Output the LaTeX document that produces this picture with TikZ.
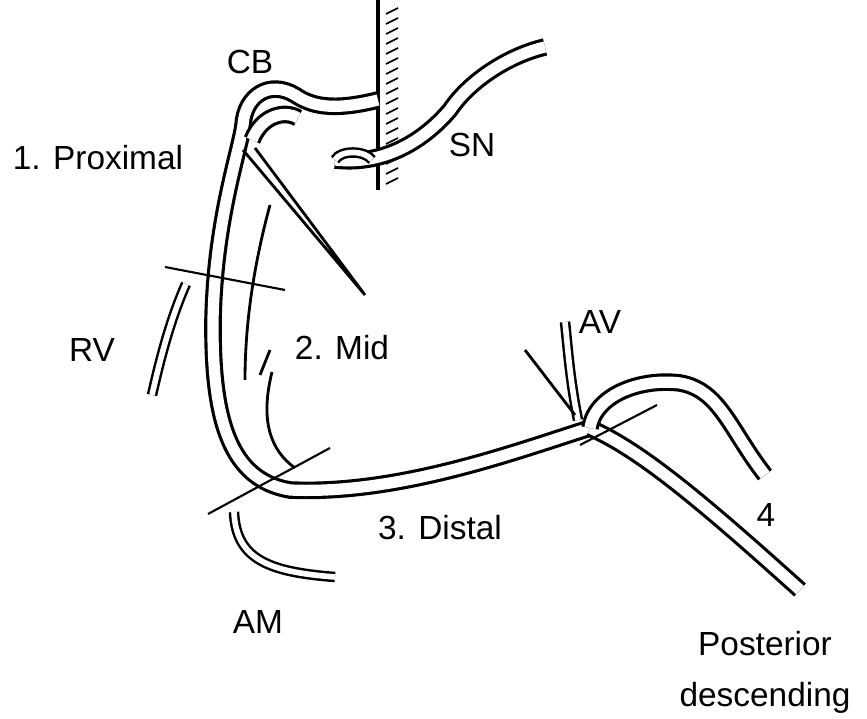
\documentclass[tikz,border=0pt]{standalone}
\usepackage{fontspec}
\setmainfont{Liberation Sans}
\begin{document}
\begin{tikzpicture}[x=0.01cm,y=-0.01cm,
 tube/.style={double=white,draw=black,line width=0.9pt,double distance=3.2pt,line cap=butt},
 thin/.style={double=white,draw=black,line width=0.7pt,double distance=1.6pt},
 lbl/.style={font=\fontsize{9.5}{11.5}\selectfont,inner sep=0pt},
 cut/.style={line width=0.6pt}]
\useasboundingbox (0,0) rectangle (867,719);
% aorta
\draw[line width=1.2pt] (378,0) -- (378,190);
\foreach \y in {8,18,...,185} \draw[line width=0.5pt] (386,\y+6) -- (398,\y);
% main vessel
\draw[tube] (378,100) .. controls (330,112) and (310,105) .. (295,95)
  .. controls (270,80) and (245,95) .. (243,125)
  .. controls (240,150) and (215,220) .. (213,320)
  .. controls (212,420) and (230,480) .. (290,490)
  .. controls (400,495) and (520,450) .. (590,428);
% CB inner loop
\draw[tube] (252,140) .. controls (262,115) and (285,110) .. (298,118);
% proximal sharp branch
\draw[line width=0.8pt] (243,150) -- (365,295) -- (255,148);
% SN branch
\draw[tube] (335,160) .. controls (380,165) and (420,145) .. (450,110)
  .. controls (470,80) and (510,55) .. (545,47);
\draw[thin] (335,160) .. controls (340,150) and (365,150) .. (372,160);
% inner mid branch
\draw[line width=0.8pt] (270,205) .. controls (255,260) and (245,320) .. (245,380);
\draw[line width=0.8pt] (270,350) -- (260,375);
\draw[line width=0.8pt] (272,372) .. controls (260,420) and (270,450) .. (295,468);
% RV
\draw[thin] (186,284) .. controls (170,320) and (160,360) .. (152,395);
% AM
\draw[thin] (234,512) .. controls (236,560) and (270,572) .. (335,577);
% PD
\draw[tube] (590,428) .. controls (640,450) and (700,500) .. (800,590);
% AV branch
\draw[tube] (590,428) .. controls (595,395) and (640,378) .. (680,383)
  .. controls (720,390) and (730,430) .. (765,475);
\draw[thin] (578,420) .. controls (570,380) and (568,350) .. (565,322);
\draw[line width=0.8pt] (575,415) -- (525,350);
% section lines
\draw[cut] (165,267) -- (285,290);
\draw[cut] (208,514) -- (330,448);
\draw[cut] (580,445) -- (657,405);
% labels
\node[lbl] (cb) at (250,62) {CB};
\node[lbl] (px) at (98,158) {1. Proximal};
\node[lbl] (sn) at (472,145) {SN};
\node[lbl] (rv) at (92,350) {RV};
\node[lbl] (md) at (342,348) {2. Mid};
\node[lbl] (av) at (600,322) {AV};
\node[lbl] (ds) at (440,528) {3. Distal};
\node[lbl] (f) at (766,515) {4};
\node[lbl] (am) at (258,622) {AM};
\node[lbl,align=center] (pd) at (765,672) {Posterior\\[3pt]descending};
\end{tikzpicture}
\end{document}
